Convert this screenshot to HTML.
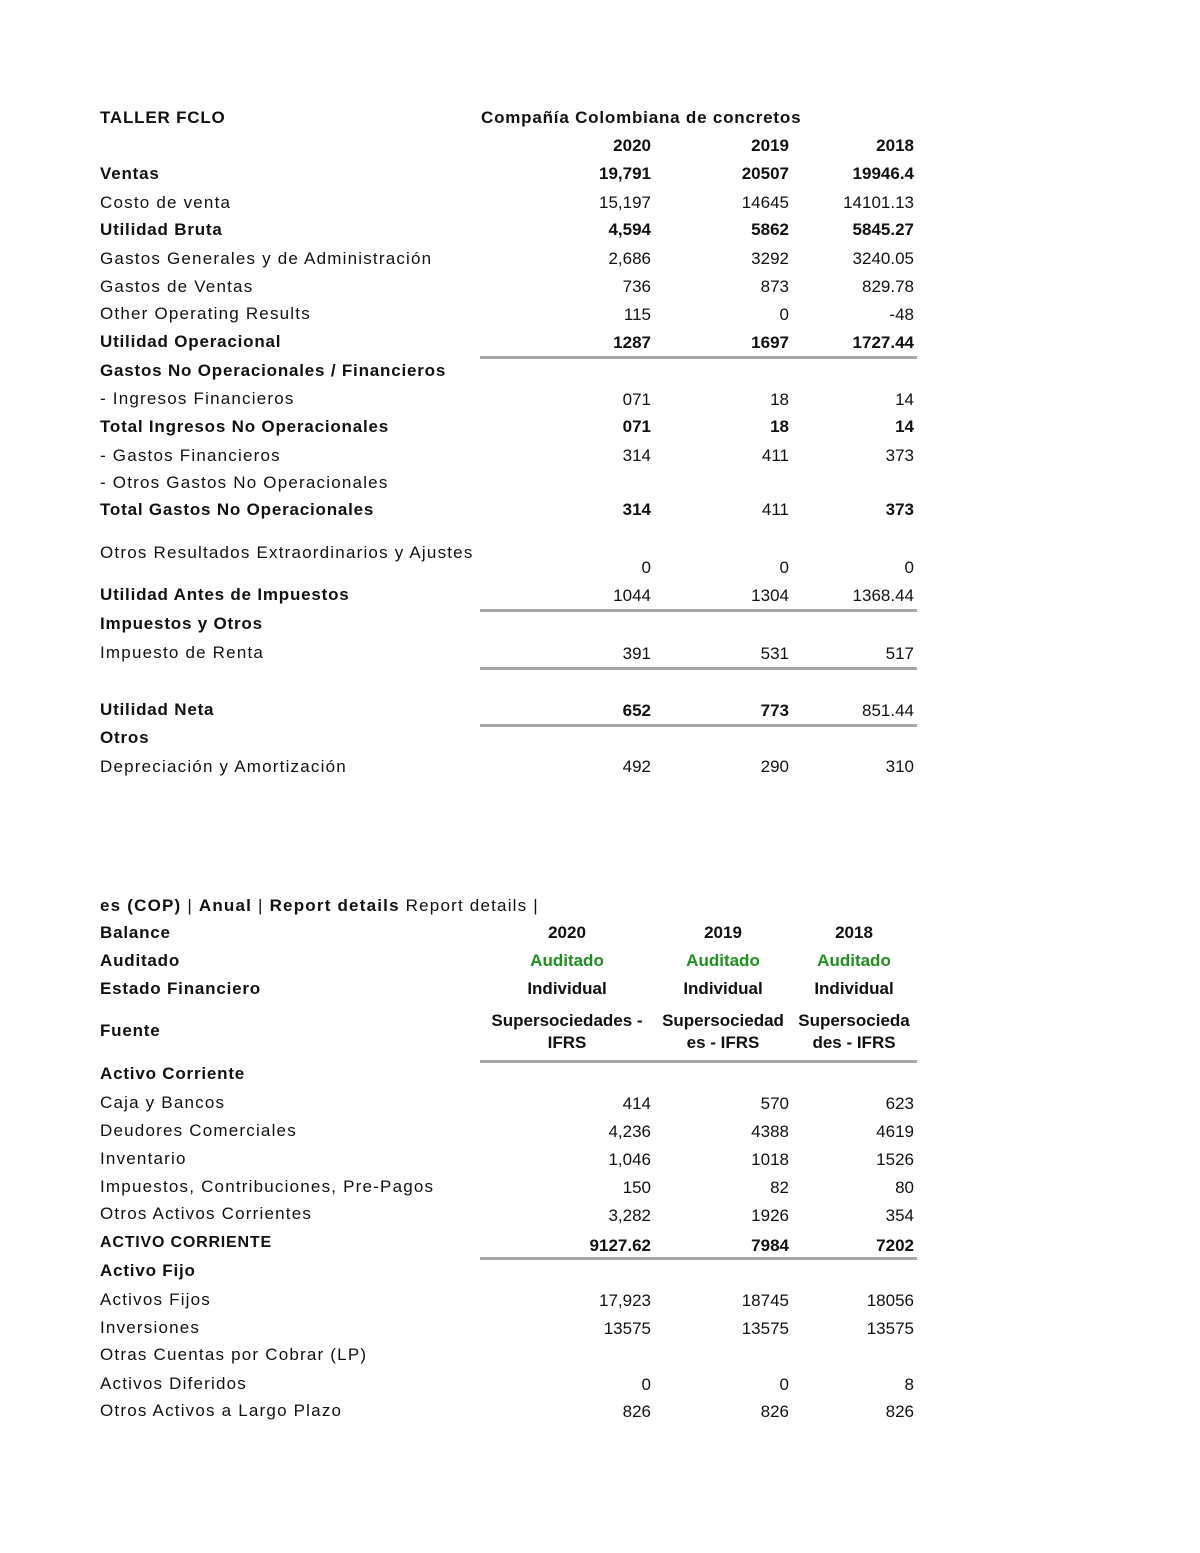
<!DOCTYPE html>
<html><head><meta charset="utf-8">
<style>
body{margin:0;width:1200px;height:1553px;background:#fff;position:relative;font-family:"Liberation Sans",sans-serif;color:#111;}
.t{position:absolute;font-size:17px;line-height:20px;white-space:nowrap;}
.l{left:100px;letter-spacing:1.2px;}
.l.b{letter-spacing:0.8px;}
.b{font-weight:bold;}
.r1,.r2,.r3{text-align:right;left:0;}
.r1{width:651px}.r2{width:789px}.r3{width:914px}
.c{text-align:center;width:200px;}
.c1{left:467px}.c2{left:623px}.c3{left:754px}
.g{color:#1f8f1f}
.hl{position:absolute;left:480px;width:437px;height:3px;background:#a6a6a6;}
</style></head><body>
<div class="t l b" style="top:108px">TALLER FCLO</div>
<div class="t b" style="top:108px;left:481px;letter-spacing:0.8px">Compañía Colombiana de concretos</div>
<div class="t b r1" style="top:136px">2020</div><div class="t b r2" style="top:136px">2019</div><div class="t b r3" style="top:136px">2018</div>

<div class="t l b" style="top:164px">Ventas</div><div class="t b r1" style="top:164px">19,791</div><div class="t b r2" style="top:164px">20507</div><div class="t b r3" style="top:164px">19946.4</div>
<div class="t l" style="top:193px">Costo de venta</div><div class="t r1" style="top:193px">15,197</div><div class="t r2" style="top:193px">14645</div><div class="t r3" style="top:193px">14101.13</div>
<div class="t l b" style="top:220px">Utilidad Bruta</div><div class="t b r1" style="top:220px">4,594</div><div class="t b r2" style="top:220px">5862</div><div class="t b r3" style="top:220px">5845.27</div>
<div class="t l" style="top:249px">Gastos Generales y de Administración</div><div class="t r1" style="top:249px">2,686</div><div class="t r2" style="top:249px">3292</div><div class="t r3" style="top:249px">3240.05</div>
<div class="t l" style="top:277px">Gastos de Ventas</div><div class="t r1" style="top:277px">736</div><div class="t r2" style="top:277px">873</div><div class="t r3" style="top:277px">829.78</div>
<div class="t l" style="top:304px">Other Operating Results</div><div class="t r1" style="top:305px">115</div><div class="t r2" style="top:305px">0</div><div class="t r3" style="top:305px">-48</div>
<div class="t l b" style="top:332px">Utilidad Operacional</div><div class="t b r1" style="top:333px">1287</div><div class="t b r2" style="top:333px">1697</div><div class="t b r3" style="top:333px">1727.44</div>
<div class="hl" style="top:356px"></div>
<div class="t l b" style="top:361px">Gastos No Operacionales / Financieros</div>
<div class="t l" style="top:389px">- Ingresos Financieros</div><div class="t r1" style="top:390px">071</div><div class="t r2" style="top:390px">18</div><div class="t r3" style="top:390px">14</div>
<div class="t l b" style="top:417px">Total Ingresos No Operacionales</div><div class="t b r1" style="top:417px">071</div><div class="t b r2" style="top:417px">18</div><div class="t b r3" style="top:417px">14</div>
<div class="t l" style="top:446px">- Gastos Financieros</div><div class="t r1" style="top:446px">314</div><div class="t r2" style="top:446px">411</div><div class="t r3" style="top:446px">373</div>
<div class="t l" style="top:473px">- Otros Gastos No Operacionales</div>
<div class="t l b" style="top:500px">Total Gastos No Operacionales</div><div class="t b r1" style="top:500px">314</div><div class="t r2" style="top:500px">411</div><div class="t b r3" style="top:500px">373</div>
<div class="t l" style="top:543px">Otros Resultados Extraordinarios y Ajustes</div>
<div class="t r1" style="top:558px">0</div><div class="t r2" style="top:558px">0</div><div class="t r3" style="top:558px">0</div>
<div class="t l b" style="top:585px">Utilidad Antes de Impuestos</div><div class="t r1" style="top:586px">1044</div><div class="t r2" style="top:586px">1304</div><div class="t r3" style="top:586px">1368.44</div>
<div class="hl" style="top:609px"></div>
<div class="t l b" style="top:614px">Impuestos y Otros</div>
<div class="t l" style="top:643px">Impuesto de Renta</div><div class="t r1" style="top:644px">391</div><div class="t r2" style="top:644px">531</div><div class="t r3" style="top:644px">517</div>
<div class="hl" style="top:667px"></div>
<div class="t l b" style="top:700px">Utilidad Neta</div><div class="t b r1" style="top:701px">652</div><div class="t b r2" style="top:701px">773</div><div class="t r3" style="top:701px">851.44</div>
<div class="hl" style="top:724px"></div>
<div class="t l b" style="top:728px">Otros</div>
<div class="t l" style="top:757px">Depreciación y Amortización</div><div class="t r1" style="top:757px">492</div><div class="t r2" style="top:757px">290</div><div class="t r3" style="top:757px">310</div>

<div class="t l" style="top:896px"><b>es (COP)</b> | <b>Anual</b> | <b>Report details</b> Report details |</div>
<div class="t l b" style="top:923px">Balance</div>
<div class="t b c c1" style="top:923px">2020</div><div class="t b c c2" style="top:923px">2019</div><div class="t b c c3" style="top:923px">2018</div>
<div class="t l b" style="top:951px">Auditado</div>
<div class="t b c c1 g" style="top:951px">Auditado</div><div class="t b c c2 g" style="top:951px">Auditado</div><div class="t b c c3 g" style="top:951px">Auditado</div>
<div class="t l b" style="top:979px">Estado Financiero</div>
<div class="t b c c1" style="top:979px">Individual</div><div class="t b c c2" style="top:979px">Individual</div><div class="t b c c3" style="top:979px">Individual</div>
<div class="t l b" style="top:1021px">Fuente</div>
<div class="t b c c1" style="top:1010px;line-height:22px">Supersociedades -<br>IFRS</div>
<div class="t b c c2" style="top:1010px;line-height:22px">Supersociedad<br>es - IFRS</div>
<div class="t b c c3" style="top:1010px;line-height:22px">Supersocieda<br>des - IFRS</div>
<div class="hl" style="top:1060px"></div>
<div class="t l b" style="top:1064px">Activo Corriente</div>
<div class="t l" style="top:1093px">Caja y Bancos</div><div class="t r1" style="top:1094px">414</div><div class="t r2" style="top:1094px">570</div><div class="t r3" style="top:1094px">623</div>
<div class="t l" style="top:1121px">Deudores Comerciales</div><div class="t r1" style="top:1122px">4,236</div><div class="t r2" style="top:1122px">4388</div><div class="t r3" style="top:1122px">4619</div>
<div class="t l" style="top:1149px">Inventario</div><div class="t r1" style="top:1150px">1,046</div><div class="t r2" style="top:1150px">1018</div><div class="t r3" style="top:1150px">1526</div>
<div class="t l" style="top:1177px">Impuestos, Contribuciones, Pre-Pagos</div><div class="t r1" style="top:1178px">150</div><div class="t r2" style="top:1178px">82</div><div class="t r3" style="top:1178px">80</div>
<div class="t l" style="top:1204px">Otros Activos Corrientes</div><div class="t r1" style="top:1206px">3,282</div><div class="t r2" style="top:1206px">1926</div><div class="t r3" style="top:1206px">354</div>
<div class="t l b" style="top:1233px;font-size:16px">ACTIVO CORRIENTE</div><div class="t b r1" style="top:1236px">9127.62</div><div class="t b r2" style="top:1236px">7984</div><div class="t b r3" style="top:1236px">7202</div>
<div class="hl" style="top:1257px"></div>
<div class="t l b" style="top:1261px">Activo Fijo</div>
<div class="t l" style="top:1290px">Activos Fijos</div><div class="t r1" style="top:1291px">17,923</div><div class="t r2" style="top:1291px">18745</div><div class="t r3" style="top:1291px">18056</div>
<div class="t l" style="top:1318px">Inversiones</div><div class="t r1" style="top:1319px">13575</div><div class="t r2" style="top:1319px">13575</div><div class="t r3" style="top:1319px">13575</div>
<div class="t l" style="top:1345px">Otras Cuentas por Cobrar (LP)</div>
<div class="t l" style="top:1374px">Activos Diferidos</div><div class="t r1" style="top:1375px">0</div><div class="t r2" style="top:1375px">0</div><div class="t r3" style="top:1375px">8</div>
<div class="t l" style="top:1401px">Otros Activos a Largo Plazo</div><div class="t r1" style="top:1402px">826</div><div class="t r2" style="top:1402px">826</div><div class="t r3" style="top:1402px">826</div>
</body></html>
